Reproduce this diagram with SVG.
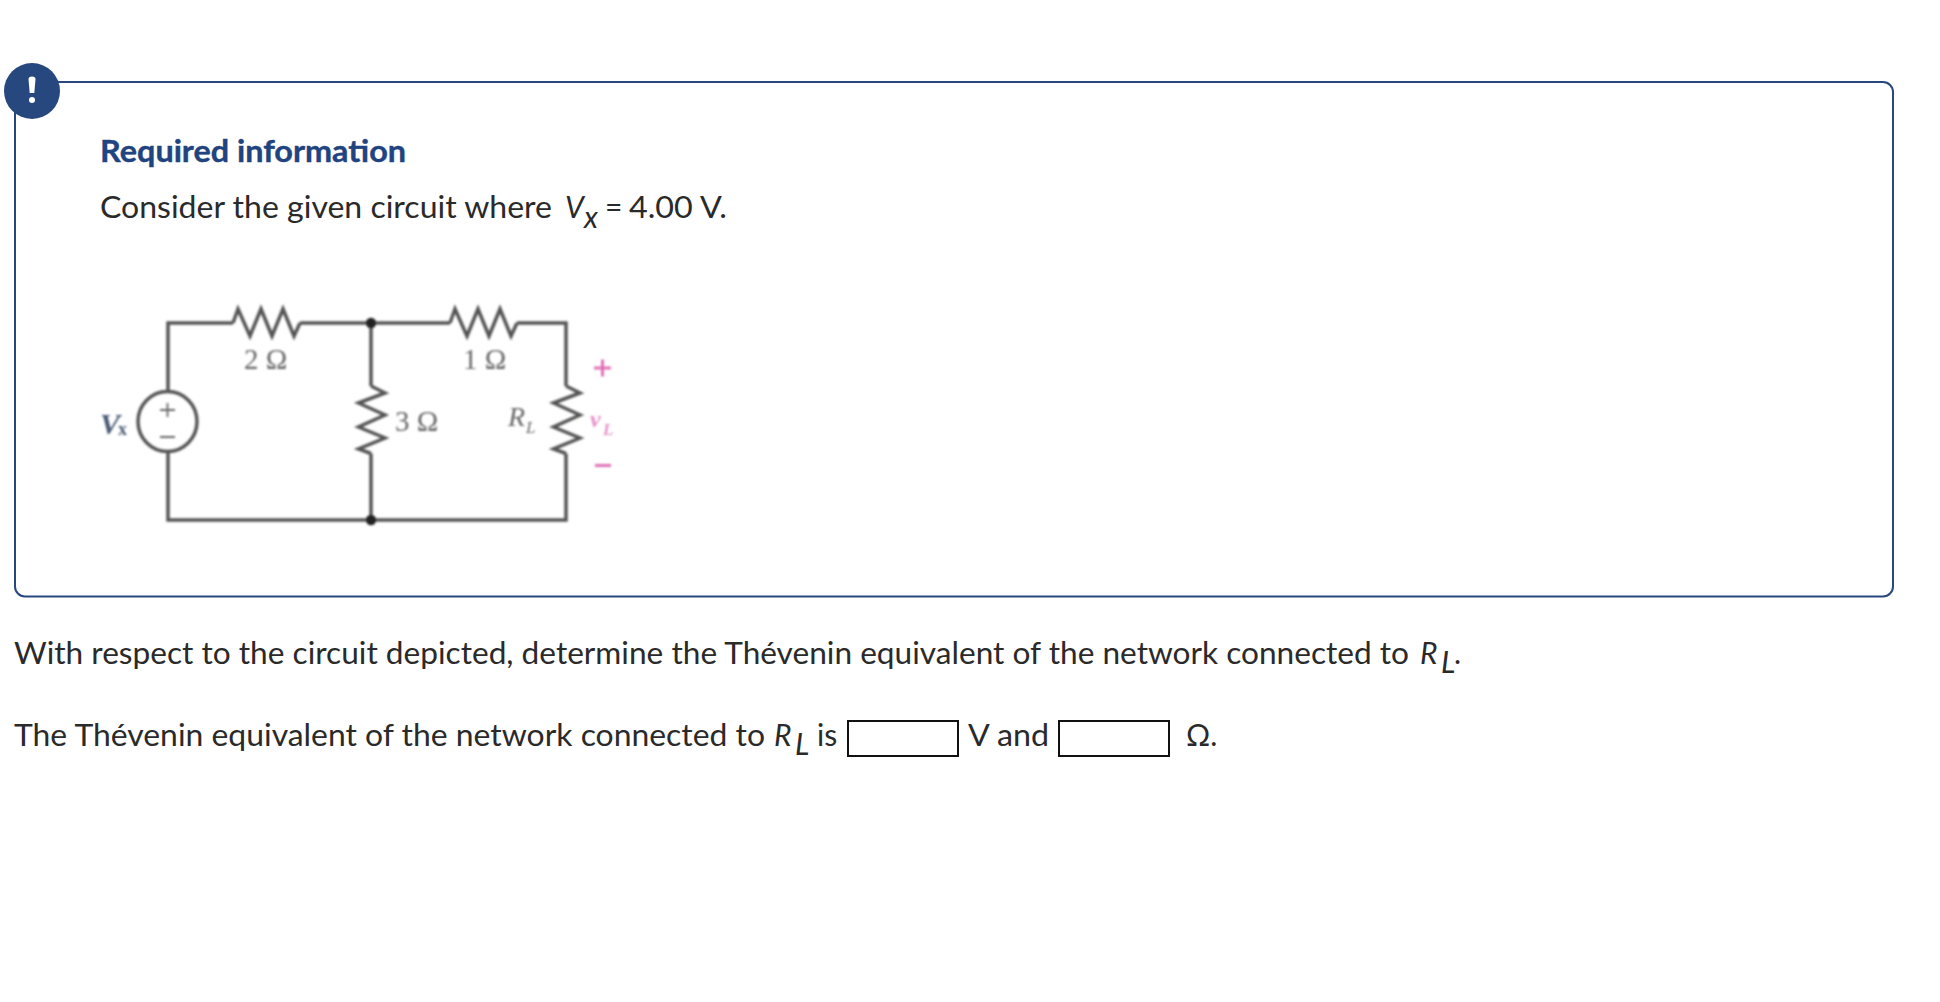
<svg xmlns="http://www.w3.org/2000/svg" width="1940" height="1002" viewBox="0 0 1940 1002">
<style>
.t{font-family:"Lato","Liberation Sans",sans-serif;font-size:30px;fill:#2a2a2a}
.i{font-style:italic}
.s{font-family:"Liberation Serif",serif;font-size:29px;fill:#666}
.w{fill:none;stroke:#555;stroke-width:3.500;stroke-linejoin:miter}
.m{fill:#e070b8}
.b{fill:#fff;stroke:#111;stroke-width:2}
</style>
<defs><filter id="blur" x="-5%" y="-5%" width="110%" height="110%"><feGaussianBlur stdDeviation="1.100"/></filter></defs>
<rect width="1940" height="1002" fill="#fff"/>
<rect id="panel" x="15" y="82" width="1878" height="514.500" rx="10" fill="#fff" stroke="#27477f" stroke-width="2"/>
<g id="badge"><circle cx="32" cy="91" r="28" fill="#27477f"/><path d="M28.500 79q0-2.500 3.500-2.500t3.500 2.500l-1.200 14h-4.600z" fill="#fff"/><circle cx="32" cy="100" r="3" fill="#fff"/></g>
<text x="100" y="162" font-family="Lato,'Liberation Sans',sans-serif" font-size="30" font-weight="700" fill="#1f447f" stroke="#1f447f" stroke-width=".4" textLength="306" lengthAdjust="spacingAndGlyphs">Required information</text>
<text class="t" x="100" y="218" textLength="452" lengthAdjust="spacingAndGlyphs">Consider the given circuit where</text>
<text class="t i" x="565" y="218">V</text><text class="t i" x="584" y="228">x</text>
<text class="t" x="605" y="218">=</text>
<text class="t" x="629" y="218" textLength="98" lengthAdjust="spacingAndGlyphs">4.00 V.</text>
<g id="circuit" filter="url(#blur)">
<g id="connectors">
<path class="w" d="M168 392V323H233M300 323H450M517 323H566V386M566 453.500V520H168V452M371 323V386M371 453.500V520"/>
</g>
<g id="r2"><path class="w" d="M233 323L238 309 250 336 261 309 272 336 283 309 294 336 300 323"/></g>
<g id="r1"><path class="w" d="M450 323L455 309 467 336 478 309 489 336 500 309 511 336 517 323"/></g>
<g id="r3"><path class="w" d="M371 386L385 393 358.500 403 385 415 358.500 427 385 438 358.500 449 371 453.500"/></g>
<g id="rl"><path class="w" d="M566 386L580 393 553.500 403 580 415 553.500 427 580 438 553.500 449 566 453.500"/></g>
<g id="source"><ellipse class="w" cx="167.500" cy="421.500" rx="29.500" ry="30" fill="#fff"/><path d="M167.500 403v14M160 410h15M160 437h15" fill="none" stroke="#666" stroke-width="1.800"/></g>
<circle id="n1" cx="371" cy="323" r="5.200" fill="#222"/><circle id="n2" cx="371" cy="520" r="5.200" fill="#222"/>
<text class="s" x="244" y="369">2 Ω</text><text class="s" x="463" y="369">1 Ω</text><text class="s" x="395" y="431">3 Ω</text>
<text x="100" y="434" font-family="Liberation Serif" font-size="30" font-style="italic" font-weight="700" fill="#4a5a75">V</text><text x="118" y="435" font-family="Liberation Serif" font-size="18" font-weight="700" fill="#4a5a75">x</text>
<text x="508" y="426" font-family="Liberation Serif" font-size="28" font-style="italic" fill="#666">R</text><text x="526" y="433" font-family="Liberation Serif" font-size="17" font-style="italic" fill="#666">L</text>
<path class="m" d="M594 366.500h17v3h-17zM601 359.500h3v17h-3zM595 464h16v3h-16z"/>
<text x="590" y="427" font-family="Liberation Serif" font-size="24" font-style="italic" font-weight="700" fill="#e590c8">v</text><text x="603" y="435" font-family="Liberation Serif" font-size="17" font-style="italic" font-weight="700" fill="#e590c8">L</text>
</g>
<text class="t" x="14" y="664" textLength="1395" lengthAdjust="spacingAndGlyphs">With respect to the circuit depicted, determine the Thévenin equivalent of the network connected to</text>
<text class="t i" x="1420" y="664">R</text><text class="t i" x="1441" y="673">L</text><text class="t" x="1454" y="664">.</text>
<text class="t" x="14" y="746" textLength="751" lengthAdjust="spacingAndGlyphs">The Thévenin equivalent of the network connected to</text>
<text class="t i" x="774" y="746">R</text><text class="t i" x="795" y="755">L</text><text class="t" x="817" y="746">is</text>
<rect class="b" x="848" y="721" width="110" height="35"/>
<text class="t" x="968" y="746" textLength="81" lengthAdjust="spacingAndGlyphs">V and</text>
<rect class="b" x="1059" y="721" width="110" height="35"/>
<text class="t" x="1186" y="746">Ω.</text>
</svg>
